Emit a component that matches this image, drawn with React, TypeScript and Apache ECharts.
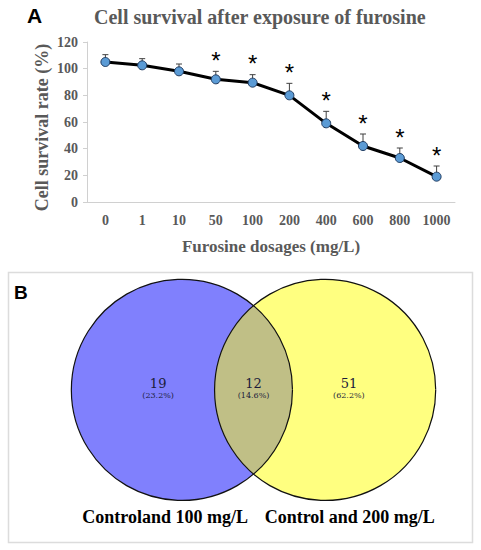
import React, { useEffect, useRef } from "react";
import * as echarts from "echarts";

const categories = ["0", "1", "10", "50", "100", "200", "400", "600", "800", "1000"];
const survival = [105, 102.5, 98, 92, 89.5, 80, 59, 42, 33, 19];
const errors = [5.5, 5, 5.5, 6, 6, 9, 9, 9, 7.5, 8];
const significant = [false, false, false, true, true, true, true, true, true, true];
const yTicks = [0, 20, 40, 60, 80, 100, 120];

const vennSetLabels = ["Controland 100 mg/L", "Control and 200 mg/L"];
const vennRegionNames = ["left", "right", "both"];
const vennRegionCounts = [19, 51, 12];

const GREY = "#595959";
const SERIF = "'Liberation Serif', 'Times New Roman', serif";

export default function App() {
  const ref = useRef<HTMLDivElement>(null);
  useEffect(() => {
    document.body.style.margin = "0";
    const chart = echarts.init(ref.current!, null, { renderer: "svg" });
    const total = vennRegionCounts.reduce((a, b) => a + b, 0);
    const option: any = {
      animation: false,
      backgroundColor: "#ffffff",
      title: {
        text: "Cell survival after exposure of furosine",
        left: 89,
        top: 2,
        textStyle: { fontFamily: SERIF, fontWeight: "bold", fontSize: 20, color: GREY },
      },
      graphic: [
        {
          type: "text",
          left: 27,
          top: 5,
          style: { text: "A", font: "bold 21px 'Liberation Sans', Arial, sans-serif", fill: "#000" },
        },
        {
          type: "text",
          x: 42,
          y: 127.5,
          rotation: Math.PI / 2,
          style: {
            text: "Cell survival rate (%)",
            font: "bold 18px " + SERIF,
            fill: GREY,
            align: "center",
            verticalAlign: "middle",
          },
        },
        {
          type: "rect",
          shape: { x: 8.5, y: 272.5, width: 464, height: 270 },
          style: { fill: "none", stroke: "#dcdcdc", lineWidth: 1.5 },
          z: 0,
        },
        {
          type: "text",
          left: 14,
          top: 283,
          style: { text: "B", font: "bold 19px 'Liberation Sans', Arial, sans-serif", fill: "#000" },
        },
      ],
      grid: [
        { left: 87, right: 26, top: 42, height: 160 },
        { left: 8, top: 272, width: 465, height: 271 },
      ],
      xAxis: [
        {
          type: "category",
          gridIndex: 0,
          data: categories,
          boundaryGap: true,
          axisLine: { lineStyle: { color: "#d0d0d0", width: 1 } },
          axisTick: { show: false },
          axisLabel: { fontFamily: SERIF, fontWeight: "bold", fontSize: 14, color: GREY, margin: 11 },
          name: "Furosine dosages (mg/L)",
          nameLocation: "middle",
          nameGap: 36,
          nameTextStyle: { fontFamily: SERIF, fontWeight: "bold", fontSize: 17, color: GREY },
        },
        { type: "value", gridIndex: 1, show: false, min: 0, max: 1 },
      ],
      yAxis: [
        {
          type: "value",
          gridIndex: 0,
          min: yTicks[0],
          max: yTicks[yTicks.length - 1],
          interval: 20,
          splitLine: { show: false },
          axisLine: { show: true, lineStyle: { color: "#d0d0d0", width: 1 } },
          axisTick: { show: true, length: 4, lineStyle: { color: "#d0d0d0" } },
          axisLabel: { fontFamily: SERIF, fontWeight: "bold", fontSize: 14, color: GREY, margin: 9 },
        },
        { type: "value", gridIndex: 1, show: false, min: 0, max: 1 },
      ],
      series: [
        {
          type: "custom",
          xAxisIndex: 0,
          yAxisIndex: 0,
          z: 1,
          clip: false,
          data: categories.map((_, i) => [i, survival[i], errors[i], significant[i] ? 1 : 0]),
          renderItem: (params: any, api: any) => {
            const i = api.value(0);
            const v = api.value(1);
            const e = api.value(2);
            const sig = api.value(3);
            const base = api.coord([i, v]);
            const top = api.coord([i, v + e]);
            const children: any[] = [
              {
                type: "line",
                shape: { x1: base[0], y1: base[1], x2: top[0], y2: top[1] },
                style: { stroke: "#404040", lineWidth: 1 },
              },
              {
                type: "line",
                shape: { x1: top[0] - 3, y1: top[1], x2: top[0] + 3, y2: top[1] },
                style: { stroke: "#404040", lineWidth: 1 },
              },
            ];
            if (sig) {
              children.push({
                type: "text",
                x: top[0],
                y: top[1] + 1,
                style: {
                  text: "*",
                  font: "24px 'Liberation Sans', Arial, sans-serif",
                  fill: "#000",
                  align: "center",
                  verticalAlign: "bottom",
                },
              });
            }
            return { type: "group", children };
          },
        },
        {
          type: "line",
          xAxisIndex: 0,
          yAxisIndex: 0,
          z: 3,
          data: survival,
          symbol: "circle",
          symbolSize: 9,
          lineStyle: { color: "#000", width: 3 },
          itemStyle: { color: "#5b9bd5", borderColor: "#1f3a5f", borderWidth: 1 },
        },
        {
          type: "custom",
          xAxisIndex: 1,
          yAxisIndex: 1,
          clip: false,
          z: 2,
          data: vennRegionNames.map((n, i) => [i, 0.5, vennRegionCounts[i]]),
          renderItem: (params: any, api: any) => {
            const cs = params.coordSys;
            const W = cs.width;
            const H = cs.height;
            const r = H * 0.408;
            const cy = cs.y + H * 0.435;
            const cxL = cs.x + W * 0.374;
            const cxR = cs.x + W * 0.682;
            const idx = api.value(0);
            const count = api.value(2);
            const pct = "(" + ((count / total) * 100).toFixed(1) + "%)";
            const numText = (x: number) => [
              {
                type: "text",
                x,
                y: cy - 6,
                style: {
                  text: String(count),
                  font: "13px 'DejaVu Serif', 'Liberation Serif', serif",
                  fill: "#1c1c3a",
                  align: "center",
                  verticalAlign: "middle",
                },
              },
              {
                type: "text",
                x,
                y: cy + 6,
                style: {
                  text: pct,
                  font: "8px 'DejaVu Serif', 'Liberation Serif', serif",
                  fill: "#1c1c3a",
                  align: "center",
                  verticalAlign: "middle",
                },
              },
            ];
            const labelStyle = (t: string, x: number) => ({
              type: "text",
              x,
              y: cs.y + H * 0.905,
              style: {
                text: t,
                font: "bold 18px " + SERIF,
                fill: "#000",
                align: "center",
                verticalAlign: "middle",
              },
            });
            if (idx === 0) {
              return {
                type: "group",
                children: [
                  { type: "circle", shape: { cx: cxL, cy, r }, style: { fill: "#8080fd", stroke: "none" } },
                  ...numText(cxL - r * 0.215),
                  labelStyle(vennSetLabels[0], cs.x + W * 0.338),
                ],
              };
            }
            if (idx === 1) {
              return {
                type: "group",
                children: [
                  { type: "circle", shape: { cx: cxR, cy, r }, style: { fill: "#ffff80", stroke: "none" } },
                  ...numText(cxR + r * 0.215),
                  labelStyle(vennSetLabels[1], cs.x + W * 0.735),
                ],
              };
            }
            const half = (cxR - cxL) / 2;
            const hh = Math.sqrt(r * r - half * half);
            const mx = (cxL + cxR) / 2;
            const d = `M ${mx} ${cy - hh} A ${r} ${r} 0 0 0 ${mx} ${cy + hh} A ${r} ${r} 0 0 0 ${mx} ${cy - hh} Z`;
            return {
              type: "group",
              children: [
                { type: "path", shape: { pathData: d }, style: { fill: "#c0bf86", stroke: "none" } },
                { type: "circle", shape: { cx: cxL, cy, r }, style: { fill: "none", stroke: "#111", lineWidth: 1.2 } },
                { type: "circle", shape: { cx: cxR, cy, r }, style: { fill: "none", stroke: "#111", lineWidth: 1.2 } },
                ...numText(mx),
              ],
            };
          },
        },
      ],
    };
    chart.setOption(option);
    return () => chart.dispose();
  }, []);
  return <div ref={ref} style={{ width: 481, height: 550 }} />;
}
